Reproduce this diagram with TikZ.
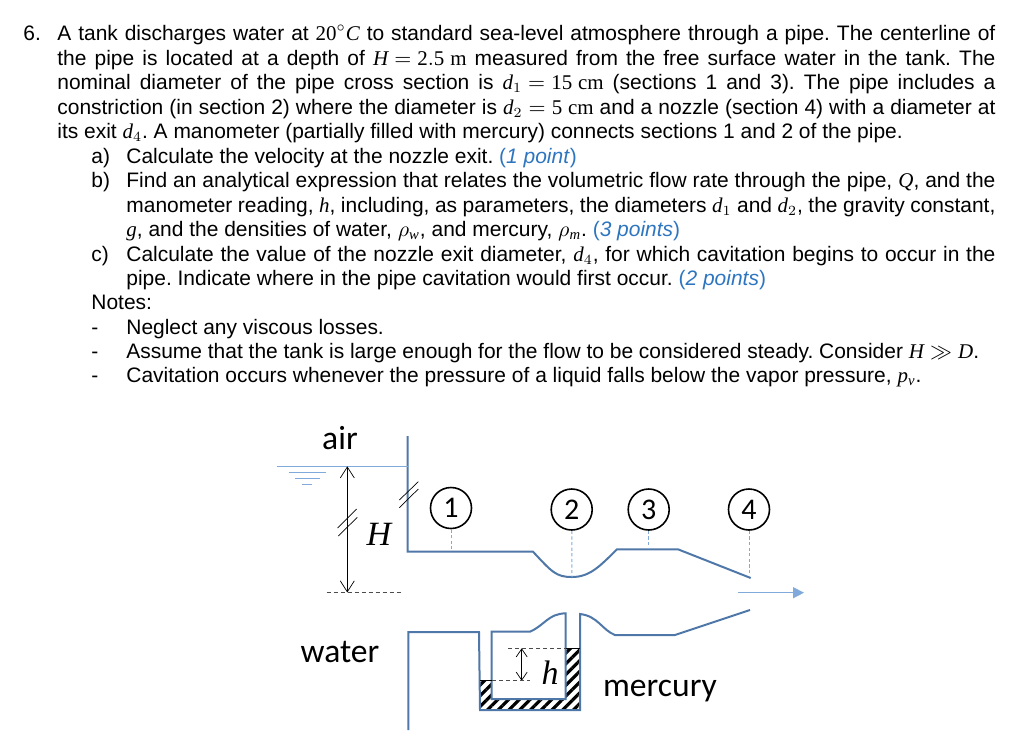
\documentclass[tikz,border=0pt]{standalone}
\usepackage{amsmath}
\usepackage{amssymb}
\usepackage{xcolor}
\usepackage{fontspec}
\setmainfont{Liberation Sans}
\newfontfamily\labelfont{Carlito}
\newfontfamily\varfont{Liberation Serif}[NFSSFamily=libserif]
\DeclareMathAlphabet{\mv}{TU}{libserif}{m}{it}
\DeclareMathAlphabet{\mr}{TU}{libserif}{m}{n}
\usepackage{tikz}
\usetikzlibrary{arrows.meta, patterns.meta}

\definecolor{pipeblue}{HTML}{4F78A8}
\definecolor{waterblue}{HTML}{7FAADB}
\definecolor{pointblue}{HTML}{2E75C0}
\newcommand{\fullline}[2]{\hbox to #1{#2}}
\newcommand{\points}[1]{{\color{pointblue}(\textit{#1})}}
\thickmuskip=5mu
\medmuskip=4mu
\frenchspacing

\begin{document}
\begin{tikzpicture}[
    x=0.5pt, y=-0.5pt,
    txtline/.style={anchor=base west, inner sep=0pt, font=\fontsize{10.48}{12}\selectfont},
    bigtext/.style={inner sep=0pt, font=\labelfont\fontsize{16.8}{20}\selectfont},
    mathlabel/.style={inner sep=0pt, font=\fontsize{17}{20}\selectfont},
    section/.style={circle, draw, line width=0.8pt, minimum size=20.5pt, inner sep=0pt, font=\labelfont\fontsize{15}{17}\selectfont},
    pipe/.style={draw=pipeblue, line width=1pt},
    water/.style={draw=waterblue, line width=0.5pt},
    guide/.style={draw=waterblue, line width=0.5pt, dash pattern=on 1.6pt off 1.2pt},
    level/.style={draw=black!70, line width=0.4pt, dash pattern=on 2pt off 1.5pt},
    breakmark/.style={draw=black, line width=0.35pt},
    dimarrow/.style={draw=black, line width=0.35pt, {Straight Barb[length=5.5pt,width=7pt]}-{Straight Barb[length=5.5pt,width=7pt]}},
    smallarrow/.style={draw=black, line width=0.35pt, {Straight Barb[length=4pt,width=5.5pt]}-{Straight Barb[length=4pt,width=5.5pt]}},
    mercury/.style={pattern={Lines[angle=45,distance=3.8pt,line width=1.6pt]}, pattern color=black}
]
    \useasboundingbox (0,0) rectangle (1024,746);

    % Question text
    \node [txtline] (num) at (23,40.5) {6.};
    \node [txtline] (ln1) at (57,40.5) {\fullline{469pt}{A tank discharges water at $\mr{20}^\circ \mv{C}$ to standard sea-level atmosphere through a pipe. The centerline of}};
    \node [txtline] (ln2) at (57,65) {\fullline{469pt}{the pipe is located at a depth of $\mv{H}=\mr{2.5~m}$ measured from the free surface water in the tank. The}};
    \node [txtline] (ln3) at (57,89.5) {\fullline{469pt}{nominal diameter of the pipe cross section is $\mv{d}_1=\mr{15~cm}$ (sections 1 and 3). The pipe includes a}};
    \node [txtline] (ln4) at (57,114) {\fullline{469pt}{constriction (in section 2) where the diameter is $\mv{d}_2=\mr{5~cm}$ and a nozzle (section 4) with a diameter at}};
    \node [txtline] (ln5) at (57,138.5) {its exit $\mv{d}_4$. A manometer (partially filled with mercury) connects sections 1 and 2 of the pipe.};
    \node [txtline] (parta) at (91,163) {a)};
    \node [txtline] (ln6) at (126,163) {Calculate the velocity at the nozzle exit. \points{1 point}};
    \node [txtline] (partb) at (91,187.5) {b)};
    \node [txtline] (ln7) at (126,187.5) {\fullline{434.5pt}{Find an analytical expression that relates the volumetric flow rate through the pipe, $\mv{Q}$, and the}};
    \node [txtline] (ln8) at (126,212) {\fullline{434.5pt}{manometer reading, $\mv{h}$, including, as parameters, the diameters $\mv{d}_1$ and $\mv{d}_2$, the gravity constant,}};
    \node [txtline] (ln9) at (126,236.5) {$\mv{g}$, and the densities of water, $\rho_{\mv{w}}$, and mercury, $\rho_{\mv{m}}$. \points{3 points}};
    \node [txtline] (partc) at (91,261) {c)};
    \node [txtline] (ln10) at (126,261) {\fullline{434.5pt}{Calculate the value of the nozzle exit diameter, $\mv{d}_4$, for which cavitation begins to occur in the}};
    \node [txtline] (ln11) at (126,285.5) {pipe. Indicate where in the pipe cavitation would first occur. \points{2 points}};
    \node [txtline] (notes) at (91,309.5) {Notes:};
    \node [txtline] (dash1) at (91,334.5) {-};
    \node [txtline] (ln12) at (126,334.5) {Neglect any viscous losses.};
    \node [txtline] (dash2) at (91,358.5) {-};
    \node [txtline] (ln13) at (126,358.5) {Assume that the tank is large enough for the flow to be considered steady. Consider $\mv{H}\gg \mv{D}$.};
    \node [txtline] (dash3) at (91,382.5) {-};
    \node [txtline] (ln14) at (126,382.5) {Cavitation occurs whenever the pressure of a liquid falls below the vapor pressure, $\mv{p}_{\mv{v}}$.};

    % Labels
    \node [bigtext] (air) at (340,438) {air};
    \node [bigtext] (waterlabel) at (340,652) {water};
    \node [bigtext] (mercurylabel) at (660,691) {mercury};
    \node [mathlabel] (Hlabel) at (379,534) {$\mv{H}$};
    \node [mathlabel] (hlabel) at (550,673) {$\mv{h}$};

    % Sections
    \node [section] (sec1) at (451,508) {1};
    \node [section] (sec2) at (571.7,509.5) {2};
    \node [section] (sec3) at (648.7,509.5) {3};
    \node [section] (sec4) at (749,509.5) {4};

    \coordinate (foot1) at (451,551.7);
    \coordinate (foot2) at (572,577);
    \coordinate (foot3) at (648.7,549.3);
    \coordinate (foot4) at (749,577);

    % Mercury
    \fill [mercury] (480,680.7) -- (491.7,680.7) -- (491.7,699) -- (565.7,699) -- (565.7,648.3)
        -- (580,648.3) -- (580,710) -- (480,710) -- cycle;

    % Pipe
    \path [pipe] (407.7,436) -- (407.7,551.7) -- (533,551.7)
        .. controls (552,572) and (556,577) .. (572,577)
        .. controls (590,577) and (600,566) .. (617,549.3)
        -- (678,549.3) -- (750.7,578);
    \path [pipe] (408.3,730) -- (408.3,632) -- (479,632) -- (480,710) -- (580,710) -- (580,614)
        .. controls (598,616) and (602,630) .. (615,635)
        -- (675,635) -- (750,610);
    \path [pipe] (530,631.7) -- (491.7,631.7) -- (491.7,699) -- (565.7,699) -- (565.7,613.3)
        .. controls (548,613.8) and (545,625) .. (530,631.7);

    % Free surface
    \coordinate (surf) at (347.3,466.3);
    \coordinate (datum) at (347.3,592.5);
    \path [water] (277,466.3) -- (407.7,466.3);
    \path [water] (288.5,472.3) -- (326,472.3);
    \path [water] (295,478.3) -- (319.5,478.3);
    \path [water] (302,484.3) -- (312,484.3);

    % Guides
    \path [guide] (sec1) -- (foot1);
    \path [guide] (sec2) -- (foot2);
    \path [guide] (sec3) -- (foot3);
    \path [guide] (sec4) -- (foot4);

    % Flow direction
    \coordinate (flowa) at (738,592.7);
    \coordinate (flowb) at (804,592.7);
    \draw [draw=waterblue, line width=0.7pt, -{Triangle[length=5.5pt,width=5.5pt]}] (flowa) -- (flowb);

    % Dimensions
    \path [dimarrow] (surf) -- (datum);
    \path [level] (326.7,592.5) -- (403,592.5);
    \path [breakmark] (337.7,528) -- (356.7,509);
    \path [breakmark] (338.3,536) -- (357.3,517.3);
    \path [breakmark] (399.3,500) -- (418.3,481.7);
    \path [breakmark] (399.3,507.7) -- (418.3,489);

    \coordinate (htop) at (521.7,648.3);
    \coordinate (hbot) at (521.7,680.7);
    \path [smallarrow] (htop) -- (hbot);
    \path [level] (508,648.3) -- (566,648.3);
    \path [level] (492,680.7) -- (530,680.7);
    \draw [black, line width=0.4pt] (566,648.3) -- (580,648.3);
    \draw [black, line width=0.4pt] (480,680.7) -- (491.7,680.7);
\end{tikzpicture}
\end{document}
